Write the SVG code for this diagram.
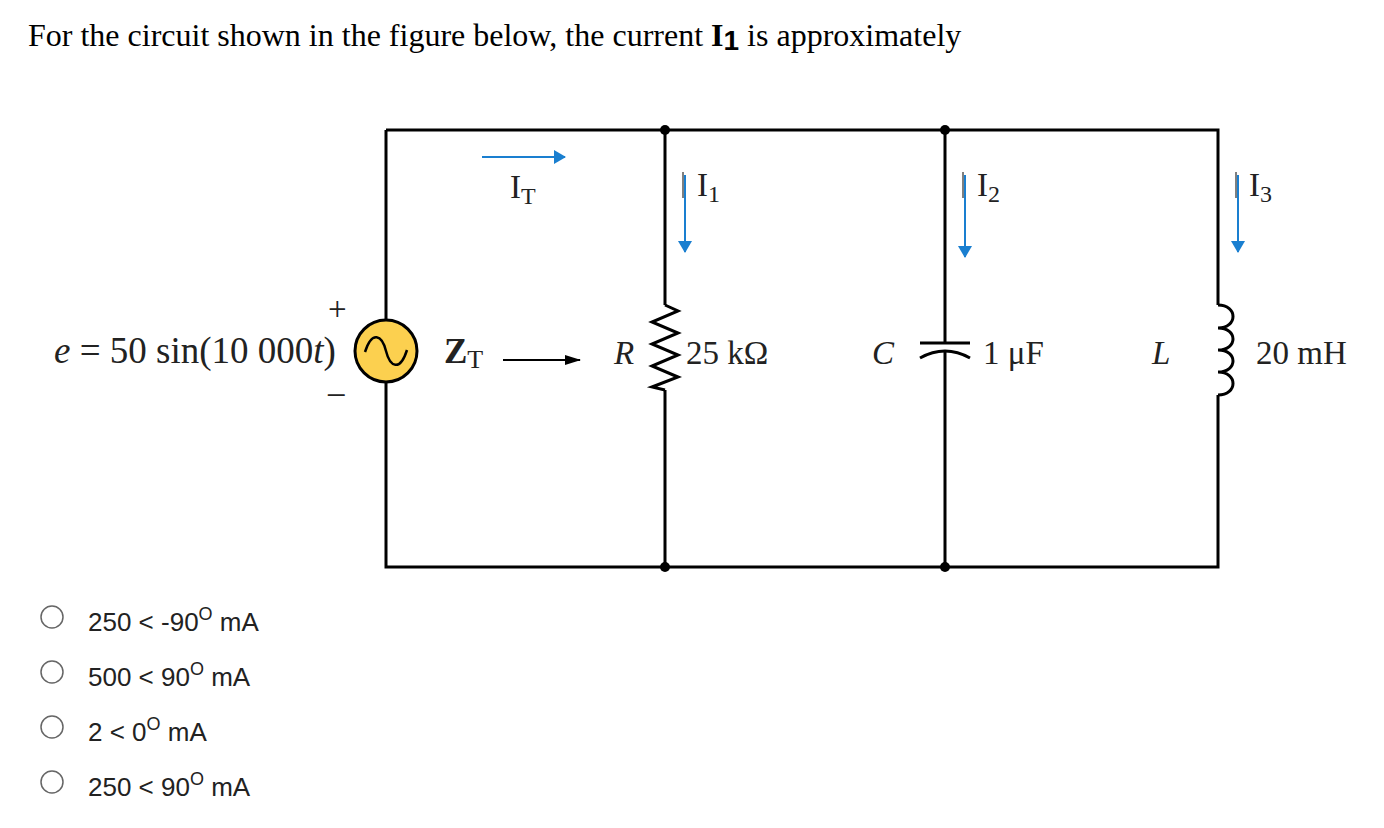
<svg xmlns="http://www.w3.org/2000/svg" width="1384" height="828" viewBox="0 0 1384 828">
<defs>
<marker id="ab" markerWidth="12" markerHeight="14" refX="11" refY="7" orient="auto" markerUnits="userSpaceOnUse"><path d="M0,0 L12,7 L0,14 Z" fill="#1a7fd0"/></marker>
<marker id="ak" markerWidth="16" markerHeight="10" refX="15" refY="5" orient="auto" markerUnits="userSpaceOnUse"><path d="M0,0 L16,5 L0,10 Z" fill="#000"/></marker>
</defs>
<style>
.w{stroke:#000;stroke-width:3;fill:none}
.b{stroke:#1a7fd0;stroke-width:2;fill:none}
.s{font-family:"Liberation Serif",serif;font-size:33px;fill:#222}
.q{font-family:"Liberation Serif",serif;font-size:32px;fill:#000}
.o{font-family:"Liberation Sans",Arial,sans-serif;font-size:26px;fill:#222}
.r{fill:#fff;stroke:#666;stroke-width:1.5}
.bl{stroke:#000;stroke-width:1}
</style>
<text x="28" y="46" class="q">For the circuit shown in the figure below, the current <tspan font-weight="bold">I</tspan><tspan font-family="Liberation Sans,sans-serif" font-weight="bold" font-size="28" dy="4">1</tspan><tspan dy="-4"> is approximately</tspan></text>
<g id="wires">
<path class="w" d="M386,130 H1218 V305 M1218,395 V567 H386 V130"/>
<path class="w" d="M665,130 V305 M665,390 V567"/>
<path class="w" d="M945,130 V343 M945,352 V567"/>
</g>
<g id="dots" fill="#000">
<circle cx="665" cy="130" r="5"/><circle cx="945" cy="130" r="5"/><circle cx="665" cy="567" r="5"/><circle cx="945" cy="567" r="5"/>
</g>
<g id="source">
<circle cx="386" cy="351" r="31" fill="#fcd04f" stroke="#000" stroke-width="3"/>
<path d="M365,352 C372,330 382,335 386,351 C390,367 400,372 407,350" fill="none" stroke="#000" stroke-width="2.5"/>
<text x="328" y="320" class="s">+</text>
<text x="328" y="403" class="s">–</text>
<text x="54" y="363" class="s" style="font-size:37px"><tspan font-style="italic">e</tspan> = 50 sin(10 000<tspan font-style="italic">t</tspan>)</text>
</g>
<g id="zt">
<text x="444" y="363" class="s" font-weight="bold" style="font-size:35px">Z<tspan font-weight="normal" style="font-size:26px" dy="5">T</tspan></text>
<path d="M503,360 H580" stroke="#000" stroke-width="2" marker-end="url(#ak)"/>
</g>
<g id="R">
<path class="w" d="M665,305 L678,311 L652,322 L678,333 L652,344 L678,355 L652,366 L678,377 L652,387 L665,390"/>
<text x="614" y="364" class="s" font-style="italic">R</text>
<text x="686" y="364" class="s">25 kΩ</text>
</g>
<g id="C">
<path class="w" d="M920,343 H970"/>
<path class="w" d="M920,358 Q945,344 970,358"/>
<text x="872" y="364" class="s" font-style="italic">C</text>
<text x="983" y="364" class="s">1 μF</text>
</g>
<g id="L">
<path class="w" d="M1218,305 C1238,305 1238,328 1218,328 C1238,328 1238,350 1218,350 C1238,350 1238,372 1218,372 C1238,372 1238,395 1218,395"/>
<text x="1152" y="364" class="s" font-style="italic">L</text>
<text x="1256" y="364" class="s">20 mH</text>
</g>
<g id="currents">
<path class="b" d="M482,157 H565" marker-end="url(#ab)"/>
<text x="510" y="198" class="s">I<tspan font-size="24" dy="6">T</tspan></text>
<path class="b" d="M685,175 V252" marker-end="url(#ab)"/>
<text x="697" y="196" class="s">I<tspan font-size="24" dy="6">1</tspan></text>
<path class="b" d="M965,175 V257" marker-end="url(#ab)"/>
<text x="977" y="196" class="s">I<tspan font-size="24" dy="6">2</tspan></text>
<path class="b" d="M1238,175 V252" marker-end="url(#ab)"/>
<text x="1249" y="196" class="s">I<tspan font-size="24" dy="6">3</tspan></text>
<line class="bl" x1="683" y1="172" x2="683" y2="198"/>
<line class="bl" x1="963" y1="172" x2="963" y2="198"/>
<line class="bl" x1="1236" y1="172" x2="1236" y2="198"/>
</g>
<g id="options">
<circle class="r" cx="52" cy="617" r="11"/><text x="88" y="631" class="o">250 &lt; -90<tspan font-size="18" dy="-11">O</tspan><tspan dy="11"> mA</tspan></text>
<circle class="r" cx="52" cy="672" r="11"/><text x="88" y="686" class="o">500 &lt; 90<tspan font-size="18" dy="-11">O</tspan><tspan dy="11"> mA</tspan></text>
<circle class="r" cx="52" cy="727" r="11"/><text x="88" y="741" class="o">2 &lt; 0<tspan font-size="18" dy="-11">O</tspan><tspan dy="11"> mA</tspan></text>
<circle class="r" cx="52" cy="782" r="11"/><text x="88" y="796" class="o">250 &lt; 90<tspan font-size="18" dy="-11">O</tspan><tspan dy="11"> mA</tspan></text>
</g>
</svg>
